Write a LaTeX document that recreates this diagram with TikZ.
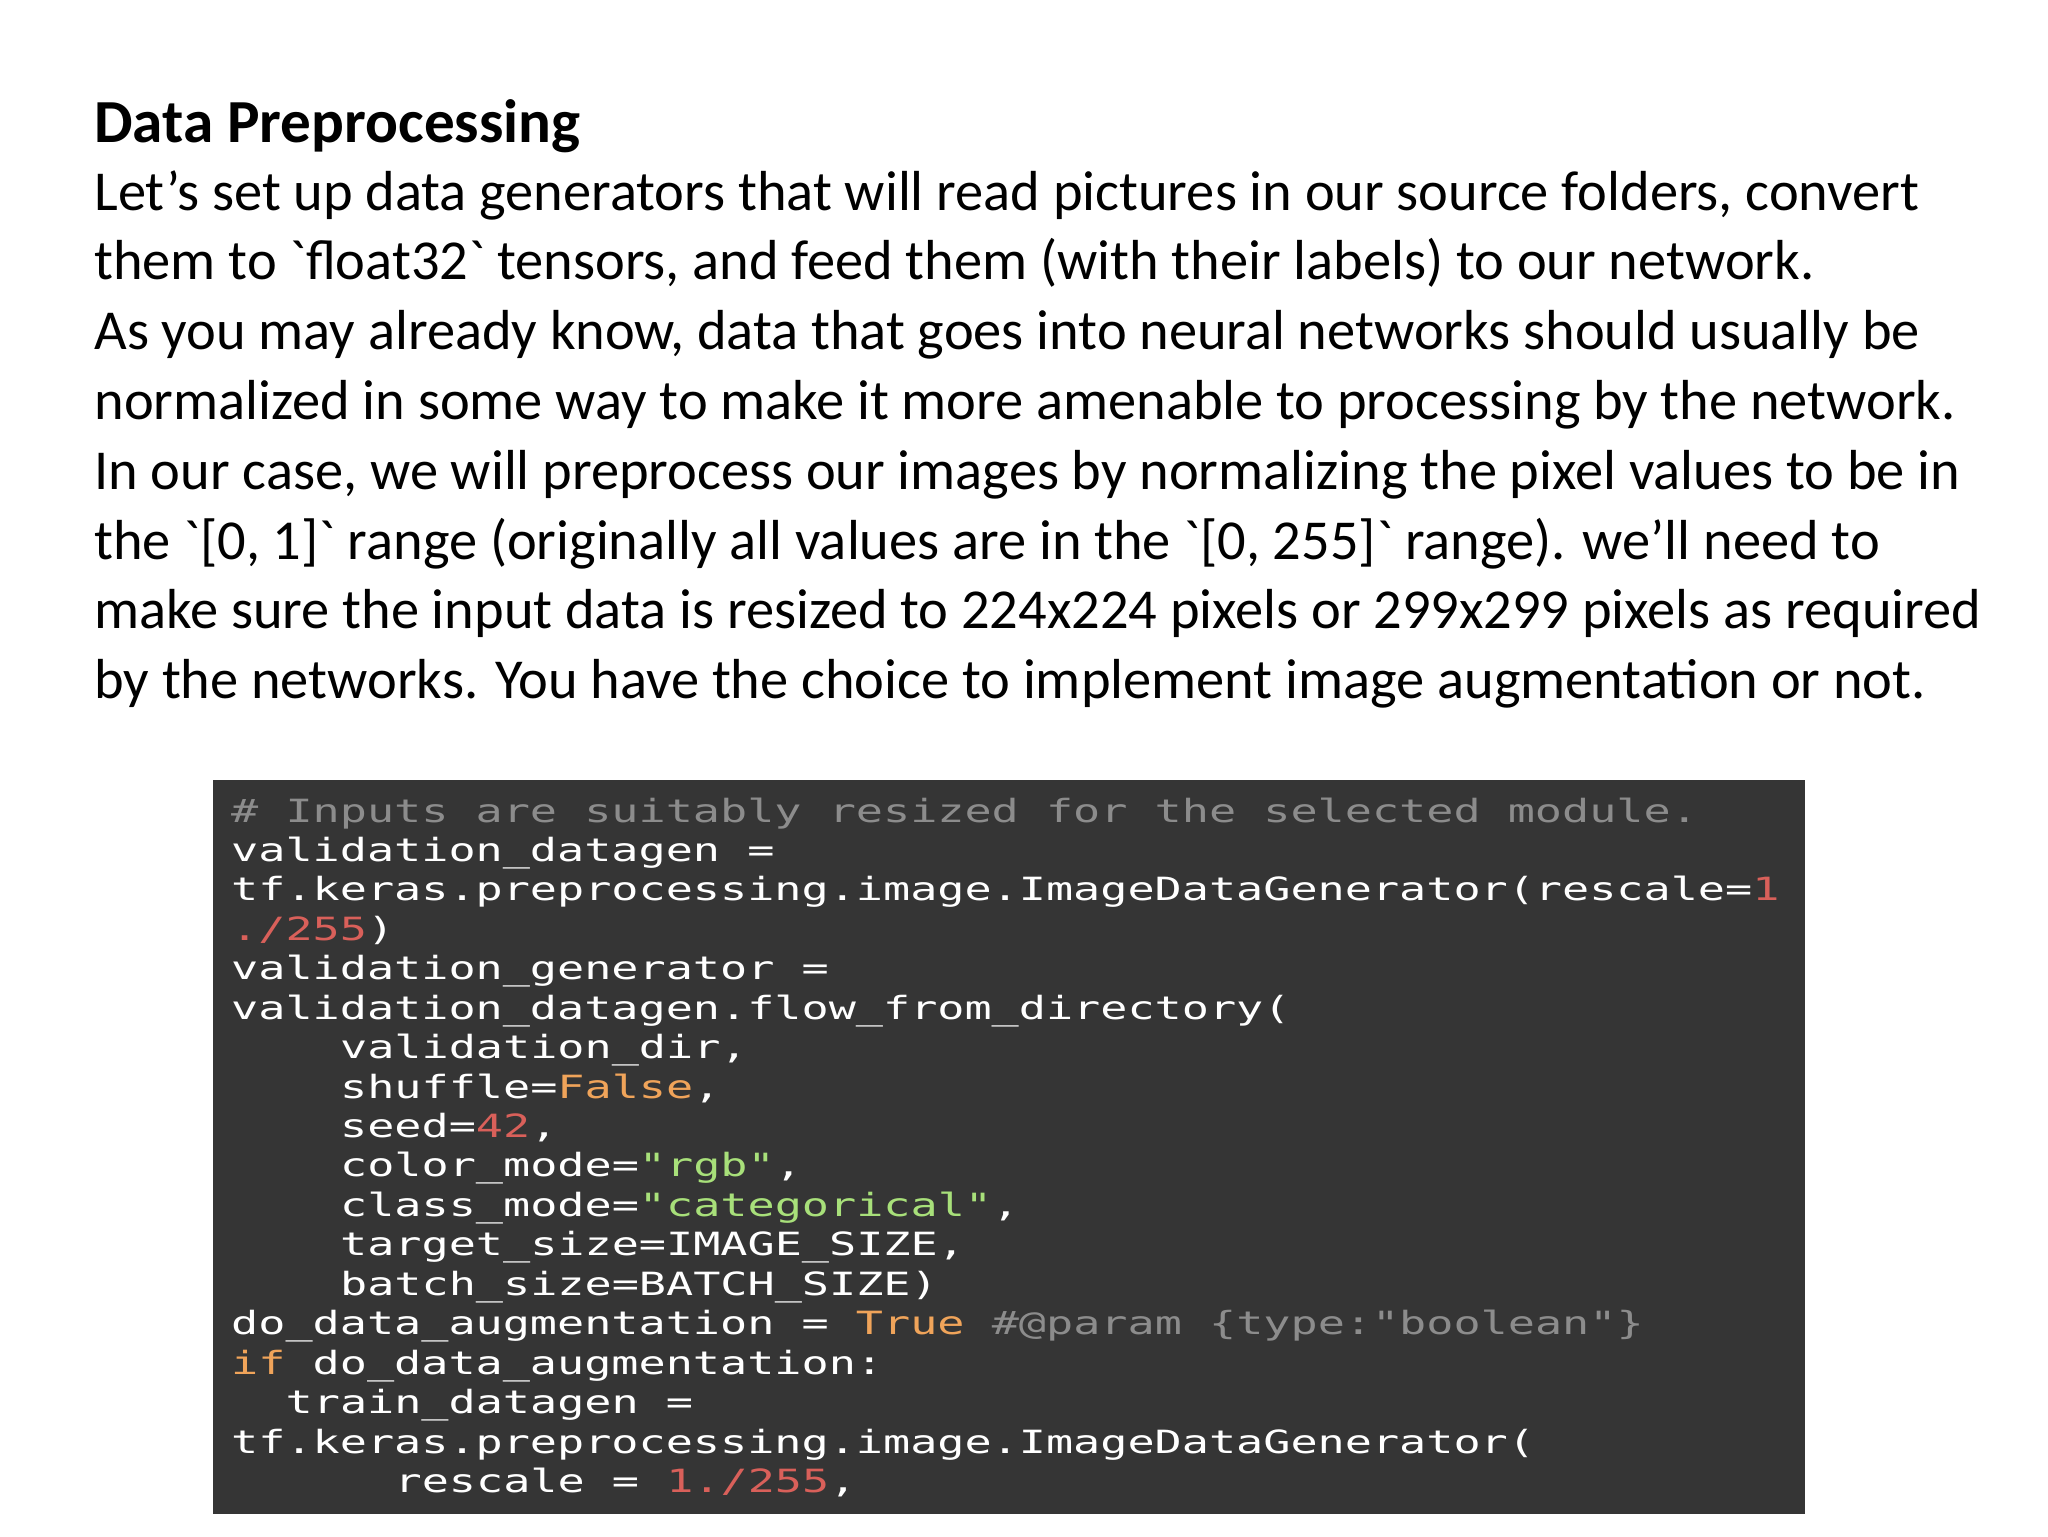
\documentclass[tikz,border=0pt]{standalone}
\usepackage{fontspec}
\setmainfont{Carlito}
\newfontfamily\codefont{DejaVu Sans Mono}[FakeStretch=1.41]
\definecolor{bg}{HTML}{353535}
\definecolor{cgray}{HTML}{8C8C8C}
\definecolor{cred}{HTML}{D9605A}
\definecolor{corange}{HTML}{F0A45A}
\definecolor{cgreen}{HTML}{A8E07A}
\newcommand{\gq}{\textasciigrave}
\begin{document}
\begin{tikzpicture}[x=1pt,y=-1pt,
  body/.style={anchor=base west,inner sep=0pt,font=\fontsize{28.2}{32}\selectfont},
  code/.style={anchor=base west,inner sep=0pt,text=white,font=\codefont\fontsize{16}{19}\selectfont}]
\useasboundingbox (0,0) rectangle (1024,768);
\fill[white] (0,0) rectangle (1024,768);
\node[body,font=\bfseries\fontsize{30.6}{34}\selectfont] (title) at (47,71) {Data Preprocessing};
\foreach \t [count=\i] in {
 {Let’s set up data generators that will read pictures in our source folders, convert},
 {them to \gq float32\gq\ tensors, and feed them (with their labels) to our network.},
 {As you may already know, data that goes into neural networks should usually be},
 {normalized in some way to make it more amenable to processing by the network.},
 {In our case, we will preprocess our images by normalizing the pixel values to be in},
 {the \gq[0, 1]\gq\ range (originally all values are in the \gq[0, 255]\gq\ range). we’ll need to},
 {make sure the input data is resized to 224x224 pixels or 299x299 pixels as required},
 {by the networks. You have the choice to implement image augmentation or not.}}
 \node[body] (b\i) at (47,{105+(\i-1)*34.9}) {\t};
\fill[bg] (106.5,390) rectangle (902.5,757);
\def\cl#1#2#3{\node[code] (c#1) at ({115.4+#2*13.62},{411+(#1-1)*19.72}) {#3};}
\cl{1}{0}{\textcolor{cgray}{\# Inputs are suitably resized for the selected module.}}
\cl{2}{0}{validation\_datagen =}
\cl{3}{0}{tf.keras.preprocessing.image.ImageDataGenerator(rescale=\textcolor{cred}{1}}
\cl{4}{0}{\textcolor{cred}{./255})}
\cl{5}{0}{validation\_generator =}
\cl{6}{0}{validation\_datagen.flow\_from\_directory(}
\cl{7}{4}{validation\_dir,}
\cl{8}{4}{shuffle=\textcolor{corange}{False},}
\cl{9}{4}{seed=\textcolor{cred}{42},}
\cl{10}{4}{color\_mode=\textcolor{cgreen}{"rgb"},}
\cl{11}{4}{class\_mode=\textcolor{cgreen}{"categorical"},}
\cl{12}{4}{target\_size=IMAGE\_SIZE,}
\cl{13}{4}{batch\_size=BATCH\_SIZE)}
\cl{14}{0}{do\_data\_augmentation = \textcolor{corange}{True} \textcolor{cgray}{\#@param \{type:"boolean"\}}}
\cl{15}{0}{\textcolor{corange}{if} do\_data\_augmentation:}
\cl{16}{2}{train\_datagen =}
\cl{17}{0}{tf.keras.preprocessing.image.ImageDataGenerator(}
\cl{18}{6}{rescale = \textcolor{cred}{1./255},}
\end{tikzpicture}
\end{document}
